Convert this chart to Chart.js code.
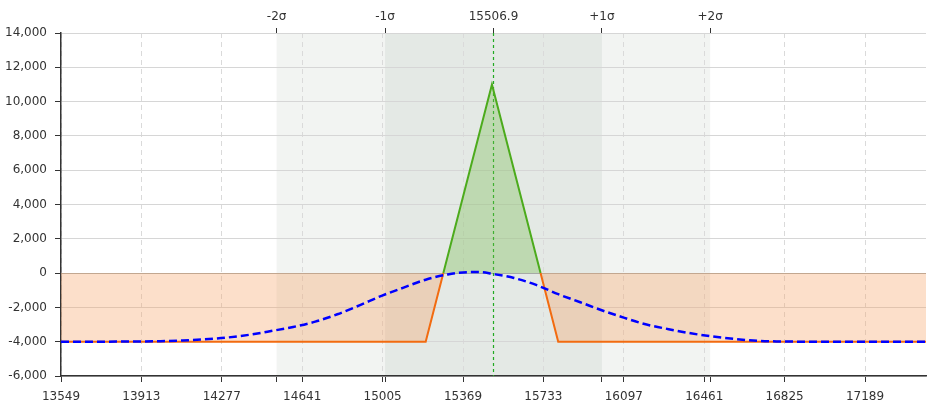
<!DOCTYPE html>
<html>
<head>
<meta charset="utf-8">
<script src="https://cdn.jsdelivr.net/npm/chart.js@4"></script>
<style>
  body { margin: 0; background: #fff; }
  #wrap { width: 940px; height: 414px; position: relative; }
</style>
</head>
<body>
<div id="wrap"><canvas id="myChart"></canvas></div>
<script>
// expiry P/L (iron butterfly style)
const payoffX = [13549, 15200, 15280, 15500, 15720, 15800, 17465];
const payoffY = [-4000, -4000, 0, 11000, 0, -4000, -4000];

// P/L today (blue dashed)
const todayX = [13549, 13800, 14000, 14100, 14200, 14300, 14400, 14500, 14600, 14700, 14800, 14900,
  15000, 15100, 15200, 15300, 15400, 15450, 15500, 15600, 15700, 15800, 15900, 16000, 16100,
  16200, 16300, 16400, 16500, 16600, 16700, 16800, 17000, 17465];
const todayY = [-4000, -3995, -3970, -3930, -3860, -3760, -3600, -3380, -3140, -2830, -2400, -1880,
  -1325, -845, -385, -80, 60, 55, -40, -285, -690, -1230, -1700, -2180, -2610,
  -3000, -3270, -3510, -3700, -3840, -3950, -3985, -4000, -4000];

// axis ticks
const xTicks = [13549, 13913, 14277, 14641, 15005, 15369, 15733, 16097, 16461, 16825, 17189];
const sigmaValues = [14525, 15016, 15506.9, 15998, 16488];
const sigmaLabels = ['-2σ', '-1σ', '15506.9', '+1σ', '+2σ'];
const xMin = 13549, xMax = 17465;
const yMin = -6000, yMax = 14000, yStep = 2000;

const toPoints = (xs, ys) => xs.map((x, i) => ({ x: x, y: ys[i] }));
const isSigma = v => sigmaValues.includes(v);

// shaded sigma bands behind everything
const bands = {
  id: 'bands',
  beforeDraw(chart) {
    const { ctx, chartArea: a, scales: { x } } = chart;
    const px = v => x.getPixelForValue(v);
    ctx.save();
    ctx.fillStyle = '#f2f4f2';
    ctx.fillRect(px(sigmaValues[0]), a.top, px(sigmaValues[4]) - px(sigmaValues[0]), a.bottom - a.top);
    ctx.fillStyle = '#e4e9e5';
    ctx.fillRect(px(sigmaValues[1]), a.top, px(sigmaValues[3]) - px(sigmaValues[1]), a.bottom - a.top);
    ctx.restore();
  }
};

// green dashed line at the centre value
const centreLine = {
  id: 'centreLine',
  beforeDatasetsDraw(chart) {
    const { ctx, chartArea: a, scales: { x } } = chart;
    const cx = Math.round(x.getPixelForValue(sigmaValues[2])) + 0.5;
    ctx.save();
    ctx.strokeStyle = '#22aa22';
    ctx.lineWidth = 1.2;
    ctx.setLineDash([3, 3]);
    ctx.beginPath();
    ctx.moveTo(cx, a.top);
    ctx.lineTo(cx, a.bottom);
    ctx.stroke();
    ctx.restore();
  }
};

Chart.defaults.font.family = "'DejaVu Sans', Verdana, sans-serif";
Chart.defaults.font.size = 12;
Chart.defaults.color = '#333';

const ctx = document.getElementById('myChart');

new Chart(ctx, {
  type: 'line',
  data: {
    datasets: [
      {
        label: 'Today',
        data: toPoints(todayX, todayY),
        borderColor: '#0000ff',
        borderWidth: 2.5,
        borderDash: [8, 4],
        pointRadius: 0,
        cubicInterpolationMode: 'monotone',
        fill: false
      },
      {
        label: 'Expiry',
        data: toPoints(payoffX, payoffY),
        borderColor: '#f26b10',
        borderWidth: 2,
        pointRadius: 0,
        tension: 0,
        segment: {
          borderColor: c => (c.p0.parsed.y >= 0 && c.p1.parsed.y >= 0) ? '#4cab1c' : '#f26b10'
        },
        fill: {
          target: 'origin',
          above: 'rgba(120,190,80,0.35)',
          below: 'rgba(247,164,104,0.35)'
        }
      }
    ]
  },
  options: {
    responsive: true,
    maintainAspectRatio: false,
    animation: false,
    layout: { padding: { left: 0, right: 14, top: 0, bottom: 0 } },
    plugins: { legend: { display: false }, tooltip: { enabled: false } },
    scales: {
      x: {
        type: 'linear',
        position: 'bottom',
        min: xMin,
        max: xMax,
        afterBuildTicks: s => {
          s.ticks = xTicks.concat(sigmaValues).sort((a, b) => a - b).map(v => ({ value: v }));
        },
        afterFit: s => { s.height = 38; },
        ticks: {
          autoSkip: false,
          maxRotation: 0,
          padding: 8,
          callback: v => isSigma(v) ? '' : String(v)
        },
        grid: {
          color: c => (c.tick && isSigma(c.tick.value)) ? 'rgba(0,0,0,0)' : '#dadada',
          tickColor: c => (c.tick && c.tick.value === sigmaValues[2]) ? 'rgba(0,0,0,0)' : '#333',
          tickLength: 6,
          lineWidth: 1
        },
        border: { display: true, color: '#333', width: 1.5, dash: [5, 4] }
      },
      x2: {
        type: 'linear',
        position: 'top',
        min: xMin,
        max: xMax,
        afterBuildTicks: s => { s.ticks = sigmaValues.map(v => ({ value: v })); },
        afterFit: s => { s.height = 33; },
        ticks: {
          autoSkip: false,
          maxRotation: 0,
          padding: 4,
          callback: (v, i) => sigmaLabels[i]
        },
        grid: {
          drawOnChartArea: false,
          color: 'rgba(0,0,0,0)',
          tickColor: '#333',
          tickLength: 5,
          lineWidth: 1
        },
        border: { display: false }
      },
      y: {
        min: yMin,
        max: yMax,
        afterFit: s => { s.width = 61; },
        ticks: { stepSize: yStep, padding: 8 },
        grid: {
          color: c => (c.tick && c.tick.value === 0) ? '#a6aaa6' : '#d6d6d6',
          tickColor: '#333',
          tickLength: 6,
          lineWidth: 1
        },
        border: { display: true, color: '#333', width: 1.5 }
      }
    }
  },
  plugins: [bands, centreLine]
});
</script>
</body>
</html>
